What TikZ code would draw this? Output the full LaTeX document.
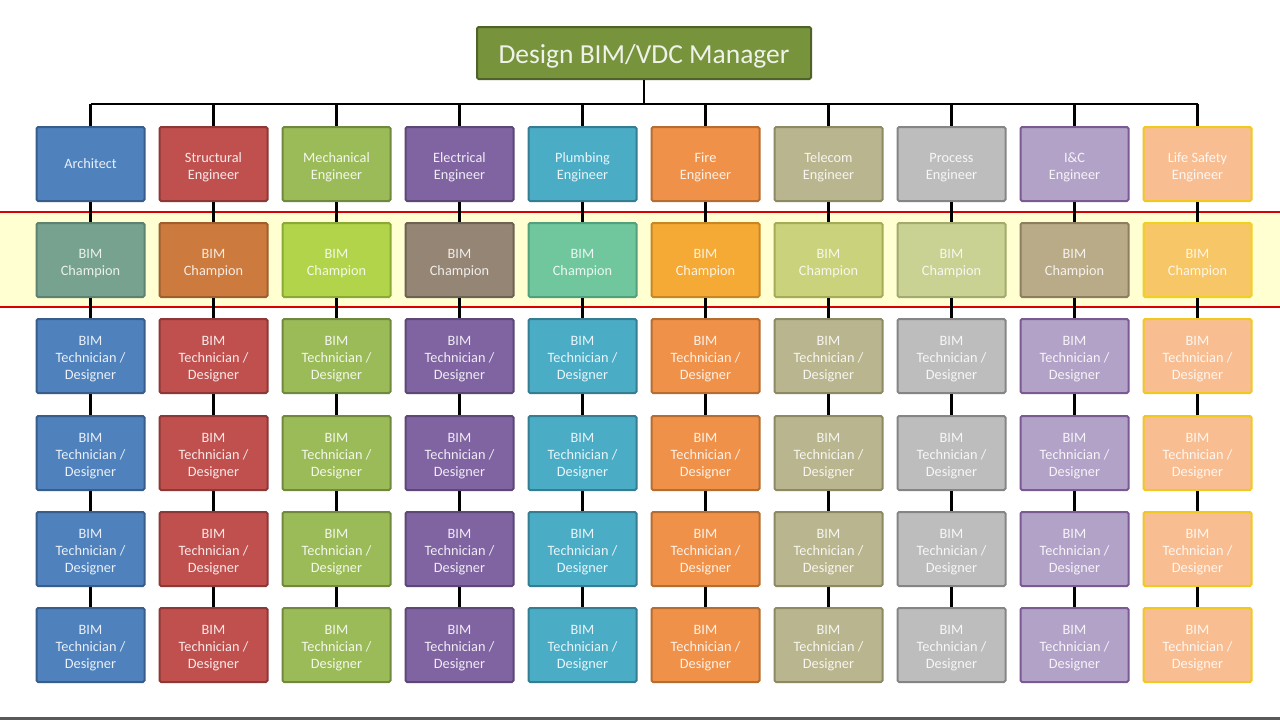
\documentclass[tikz,border=0pt]{standalone}
\usepackage{fontspec}
\setmainfont{Carlito}
\newcommand{\dnstrut}{\rule{0pt}{15.5pt}}
\begin{document}
\begin{tikzpicture}[x=1pt,y=-1pt,
  box/.style={rectangle, rounded corners=1.5pt, line width=2pt, minimum width=108pt, minimum height=74pt, inner sep=0pt, align=center, font=\fontsize{14.3}{17}\selectfont},
  link/.style={line width=2.4pt, black},
  redline/.style={line width=2.4pt, color=red!85!black}]
\definecolor{col0}{HTML}{4F81BD}\definecolor{bor0}{HTML}{385D8A}
\definecolor{col1}{HTML}{C0504D}\definecolor{bor1}{HTML}{8C3836}
\definecolor{col2}{HTML}{9BBB59}\definecolor{bor2}{HTML}{71893F}
\definecolor{col3}{HTML}{8064A2}\definecolor{bor3}{HTML}{5C4776}
\definecolor{col4}{HTML}{4BACC6}\definecolor{bor4}{HTML}{357D91}
\definecolor{col5}{HTML}{F0914A}\definecolor{bor5}{HTML}{B66D31}
\definecolor{col6}{HTML}{B9B58E}\definecolor{bor6}{HTML}{8C8A62}
\definecolor{col7}{HTML}{BDBDBD}\definecolor{bor7}{HTML}{858585}
\definecolor{col8}{HTML}{B3A2C7}\definecolor{bor8}{HTML}{7A5A92}
\definecolor{col9}{HTML}{F8BE92}\definecolor{bor9}{HTML}{F0C820}
\definecolor{ch0}{HTML}{77A28F}\definecolor{chb0}{HTML}{5D826F}
\definecolor{ch1}{HTML}{CC7A3E}\definecolor{chb1}{HTML}{A05E2E}
\definecolor{ch2}{HTML}{B2D44A}\definecolor{chb2}{HTML}{8AAA36}
\definecolor{ch3}{HTML}{958575}\definecolor{chb3}{HTML}{6E6254}
\definecolor{ch4}{HTML}{70C79E}\definecolor{chb4}{HTML}{52A07C}
\definecolor{ch5}{HTML}{F4AA34}\definecolor{chb5}{HTML}{C88624}
\definecolor{ch6}{HTML}{CAD27C}\definecolor{chb6}{HTML}{A4AC58}
\definecolor{ch7}{HTML}{C9D193}\definecolor{chb7}{HTML}{A2AA6E}
\definecolor{ch8}{HTML}{B9AA88}\definecolor{chb8}{HTML}{8E7E60}
\definecolor{ch9}{HTML}{F7C666}\definecolor{chb9}{HTML}{F0D020}
\definecolor{mgrfill}{HTML}{77933C}\definecolor{mgrbor}{HTML}{4F6228}
\definecolor{band}{HTML}{FFFFD2}
\useasboundingbox (0,0) rectangle (1280,720);
\fill[white] (0,0) rectangle (1280,720);
% yellow band
\fill[band] (0,212) rectangle (1280,307);
\draw[redline] (0,212) -- (1280,212);
\draw[redline] (0,307) -- (1280,307);
\fill[black!65] (0,717) rectangle (1280,720);
% manager
\node[box, minimum width=334pt, minimum height=52pt, fill=mgrfill, draw=mgrbor, text=white!88!mgrfill, font=\fontsize{27.5}{32}\selectfont] (mgr) at (644,53) {\rule{0pt}{26pt}Design BIM/VDC Manager};
\coordinate (bus) at (644,104);
% columns
\foreach \i/\lab in {0/Architect, 1/{\dnstrut Structural\\Engineer}, 2/{\dnstrut Mechanical\\Engineer}, 3/{\dnstrut Electrical\\Engineer}, 4/{\dnstrut Plumbing\\Engineer}, 5/{\dnstrut Fire\\Engineer}, 6/{\dnstrut Telecom\\Engineer}, 7/{\dnstrut Process\\Engineer}, 8/{\dnstrut I\&C\\Engineer}, 9/{\dnstrut Life Safety\\Engineer}}{
  \pgfmathsetmacro{\xx}{90.5+123*\i}
  \node[box, fill=col\i, draw=bor\i, text=white!88!col\i] (e\i) at (\xx,164) {\lab};
  \node[box, fill=ch\i, draw=chb\i, text=white!85!ch\i] (c\i) at (\xx,260) {\dnstrut BIM\\Champion};
  \foreach \r/\yy in {1/356, 2/453, 3/549, 4/645}{
    \node[box, fill=col\i, draw=bor\i, text=white!88!col\i] (t\i-\r) at (\xx,\yy) {\dnstrut BIM\\Technician /\\Designer};
  }
}
% connectors
\draw[link] (mgr.south) -- (bus);
\draw[link] (e0.north |- bus) -- (e9.north |- bus);
\foreach \i in {0,...,9}{
  \draw[link] (e\i.north |- bus) -- (e\i.north);
  \draw[link] (e\i.south) -- (c\i.north);
  \draw[link] (c\i.south) -- (t\i-1.north);
  \draw[link] (t\i-1.south) -- (t\i-2.north);
  \draw[link] (t\i-2.south) -- (t\i-3.north);
  \draw[link] (t\i-3.south) -- (t\i-4.north);
}
\end{tikzpicture}
\end{document}
